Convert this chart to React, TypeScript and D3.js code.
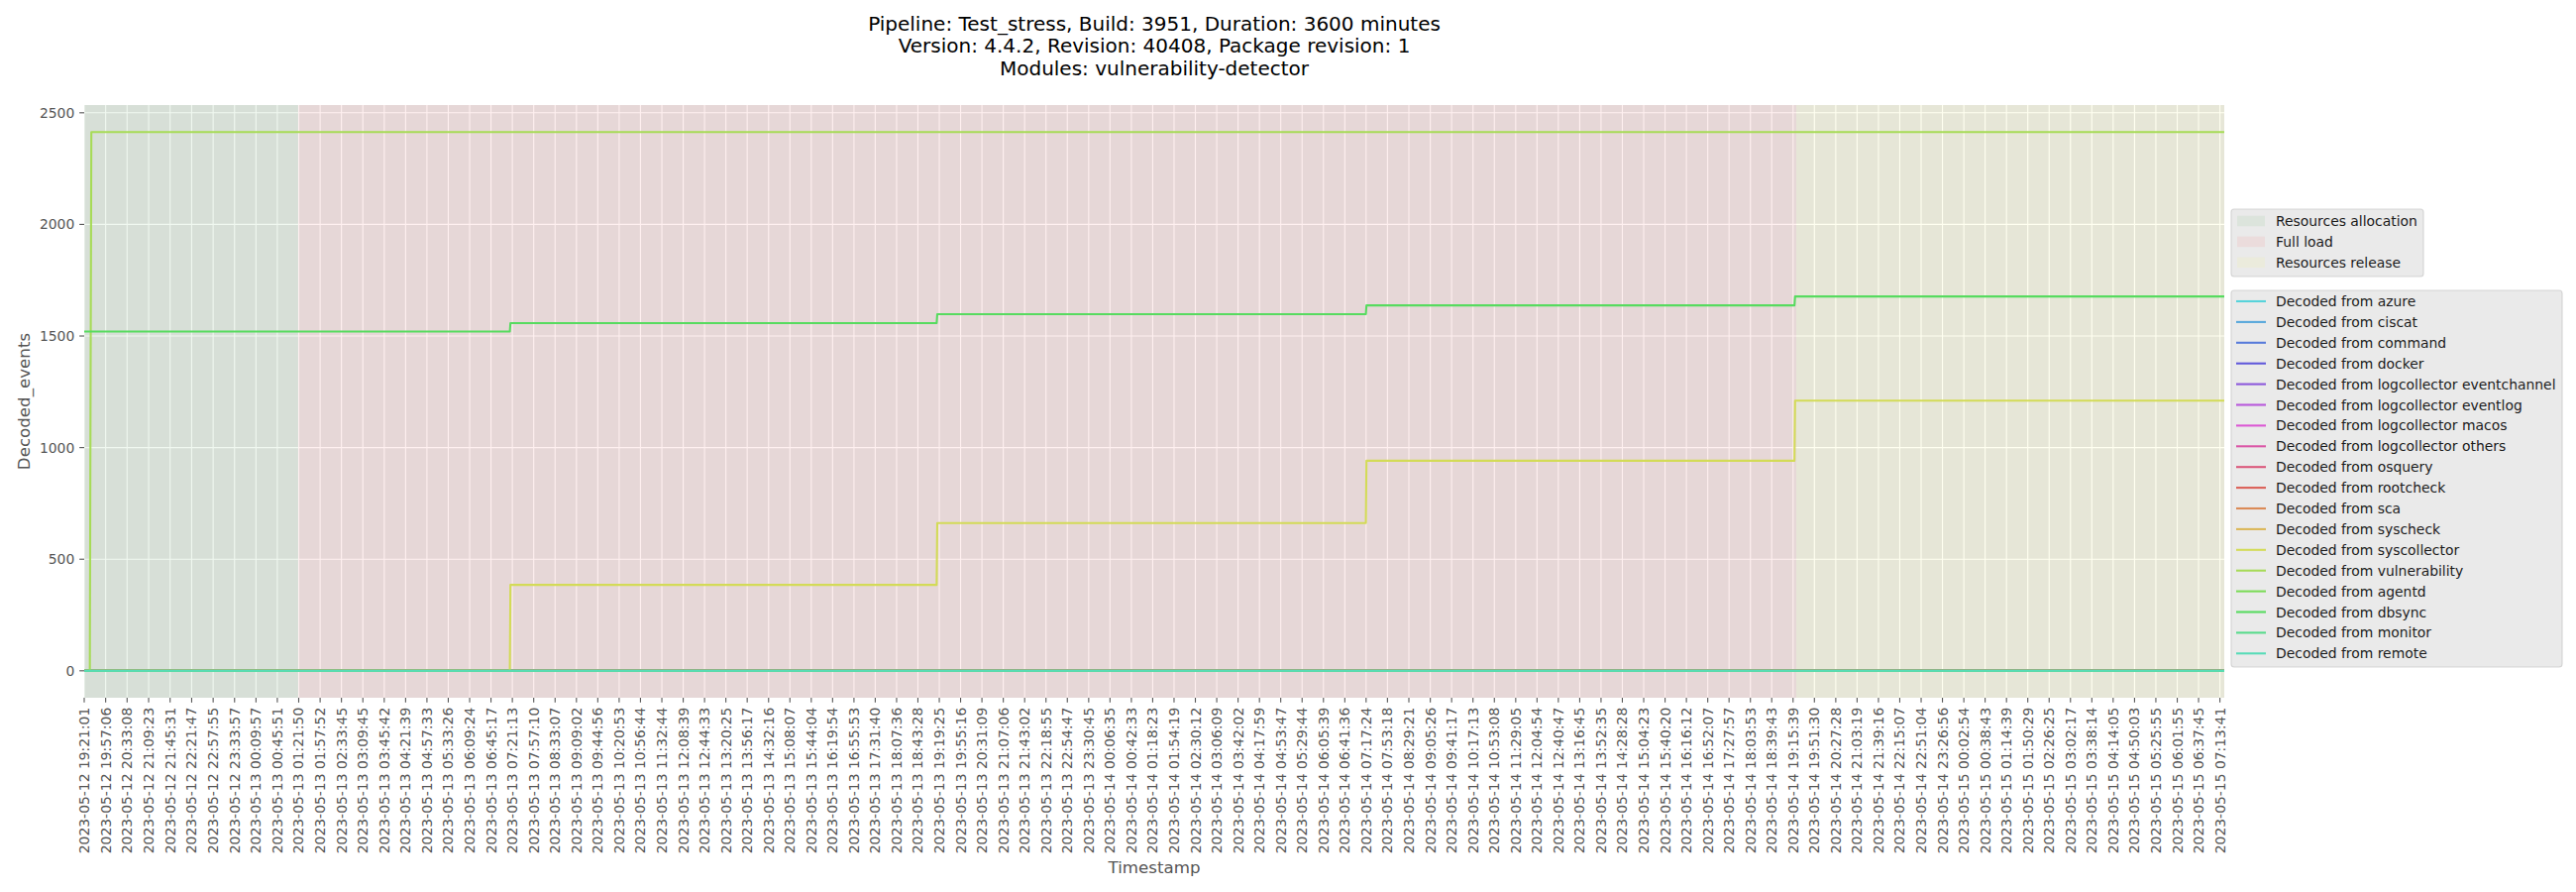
import React from "react";
import * as d3 from "d3";

const titleLines = [
  "Pipeline: Test_stress, Build: 3951, Duration: 3600 minutes",
  "Version: 4.4.2, Revision: 40408, Package revision: 1",
  "Modules: vulnerability-detector",
];

const xLabel = "Timestamp";
const yLabel = "Decoded_events";

const startTime = "2023-05-12 19:21:01";
const endTime = "2023-05-15 07:21:01";

const tickLabels = [
  "2023-05-12 19:21:01", "2023-05-12 19:57:06", "2023-05-12 20:33:08", "2023-05-12 21:09:23",
  "2023-05-12 21:45:31", "2023-05-12 22:21:47", "2023-05-12 22:57:55", "2023-05-12 23:33:57",
  "2023-05-13 00:09:57", "2023-05-13 00:45:51", "2023-05-13 01:21:50", "2023-05-13 01:57:52",
  "2023-05-13 02:33:45", "2023-05-13 03:09:45", "2023-05-13 03:45:42", "2023-05-13 04:21:39",
  "2023-05-13 04:57:33", "2023-05-13 05:33:26", "2023-05-13 06:09:24", "2023-05-13 06:45:17",
  "2023-05-13 07:21:13", "2023-05-13 07:57:10", "2023-05-13 08:33:07", "2023-05-13 09:09:02",
  "2023-05-13 09:44:56", "2023-05-13 10:20:53", "2023-05-13 10:56:44", "2023-05-13 11:32:44",
  "2023-05-13 12:08:39", "2023-05-13 12:44:33", "2023-05-13 13:20:25", "2023-05-13 13:56:17",
  "2023-05-13 14:32:16", "2023-05-13 15:08:07", "2023-05-13 15:44:04", "2023-05-13 16:19:54",
  "2023-05-13 16:55:53", "2023-05-13 17:31:40", "2023-05-13 18:07:36", "2023-05-13 18:43:28",
  "2023-05-13 19:19:25", "2023-05-13 19:55:16", "2023-05-13 20:31:09", "2023-05-13 21:07:06",
  "2023-05-13 21:43:02", "2023-05-13 22:18:55", "2023-05-13 22:54:47", "2023-05-13 23:30:45",
  "2023-05-14 00:06:35", "2023-05-14 00:42:33", "2023-05-14 01:18:23", "2023-05-14 01:54:19",
  "2023-05-14 02:30:12", "2023-05-14 03:06:09", "2023-05-14 03:42:02", "2023-05-14 04:17:59",
  "2023-05-14 04:53:47", "2023-05-14 05:29:44", "2023-05-14 06:05:39", "2023-05-14 06:41:36",
  "2023-05-14 07:17:24", "2023-05-14 07:53:18", "2023-05-14 08:29:21", "2023-05-14 09:05:26",
  "2023-05-14 09:41:17", "2023-05-14 10:17:13", "2023-05-14 10:53:08", "2023-05-14 11:29:05",
  "2023-05-14 12:04:54", "2023-05-14 12:40:47", "2023-05-14 13:16:45", "2023-05-14 13:52:35",
  "2023-05-14 14:28:28", "2023-05-14 15:04:23", "2023-05-14 15:40:20", "2023-05-14 16:16:12",
  "2023-05-14 16:52:07", "2023-05-14 17:27:57", "2023-05-14 18:03:53", "2023-05-14 18:39:43",
  "2023-05-14 19:15:39", "2023-05-14 19:51:30", "2023-05-14 20:27:28", "2023-05-14 21:03:19",
  "2023-05-14 21:39:16", "2023-05-14 22:15:07", "2023-05-14 22:51:04", "2023-05-14 23:26:56",
  "2023-05-15 00:02:54", "2023-05-15 00:38:43", "2023-05-15 01:14:39", "2023-05-15 01:50:29",
  "2023-05-15 02:26:25", "2023-05-15 03:02:17", "2023-05-15 03:38:14", "2023-05-15 04:14:05",
  "2023-05-15 04:50:03", "2023-05-15 05:25:55", "2023-05-15 06:01:55", "2023-05-15 06:37:45",
  "2023-05-15 07:13:41",
];

const phaseNames = ["Resources allocation", "Full load", "Resources release"];
const phaseBounds = ["2023-05-12 19:21:01", "2023-05-13 01:21:01", "2023-05-14 19:21:01", "2023-05-15 07:21:01"];
const phaseColors = ["#008000", "#ff0000", "#ffff00"];

const seriesNames = [
  "Decoded from azure", "Decoded from ciscat", "Decoded from command", "Decoded from docker",
  "Decoded from logcollector eventchannel", "Decoded from logcollector eventlog",
  "Decoded from logcollector macos", "Decoded from logcollector others", "Decoded from osquery",
  "Decoded from rootcheck", "Decoded from sca", "Decoded from syscheck", "Decoded from syscollector",
  "Decoded from vulnerability", "Decoded from agentd", "Decoded from dbsync", "Decoded from monitor",
  "Decoded from remote",
];

const seriesColors = [
  "#57d3db", "#57a7db", "#577bdb", "#5f57db", "#8b57db", "#b757db", "#db57d3", "#db57a7", "#db577b",
  "#db5f57", "#db8b57", "#dbb757", "#d3db57", "#a7db57", "#7bdb57", "#57db5f", "#57db8b", "#57dbb7",
];

type Pt = [string, number];

const zeroPoints: Pt[] = [
  ["2023-05-12 19:21:01", 0],
  ["2023-05-15 07:21:01", 0],
];

const syscollectorPoints: Pt[] = [
  ["2023-05-12 19:21:01", 0],
  ["2023-05-13 07:17:00", 0],
  ["2023-05-13 07:18:00", 385],
  ["2023-05-13 19:15:00", 385],
  ["2023-05-13 19:16:00", 662],
  ["2023-05-14 07:17:00", 662],
  ["2023-05-14 07:18:00", 941],
  ["2023-05-14 19:18:00", 941],
  ["2023-05-14 19:19:00", 1210],
  ["2023-05-15 07:21:01", 1210],
];

const vulnerabilityPoints: Pt[] = [
  ["2023-05-12 19:21:01", 0],
  ["2023-05-12 19:30:30", 0],
  ["2023-05-12 19:31:30", 1060],
  ["2023-05-12 19:33:00", 2414],
  ["2023-05-15 07:21:01", 2414],
];

const dbsyncPoints: Pt[] = [
  ["2023-05-12 19:21:01", 1520],
  ["2023-05-13 07:17:00", 1520],
  ["2023-05-13 07:18:00", 1558],
  ["2023-05-13 19:15:00", 1558],
  ["2023-05-13 19:16:00", 1598],
  ["2023-05-14 07:17:00", 1598],
  ["2023-05-14 07:18:00", 1637],
  ["2023-05-14 19:18:00", 1637],
  ["2023-05-14 19:19:00", 1677],
  ["2023-05-15 07:21:01", 1677],
];

const seriesData: Record<string, Pt[]> = {
  "Decoded from syscollector": syscollectorPoints,
  "Decoded from vulnerability": vulnerabilityPoints,
  "Decoded from dbsync": dbsyncPoints,
};

const parse = d3.utcParse("%Y-%m-%d %H:%M:%S");
const fmt = d3.utcFormat("%Y-%m-%d %H:%M:%S");

export default function App() {
  const W = 2600;
  const H = 900;
  const left = 85;
  const right = 2245;
  const top = 106;
  const bottom = 704;
  const font = "DejaVu Sans";

  const x = d3.scaleTime().domain([parse(startTime)!, parse(endTime)!]).range([left, right]);

  const allVals = seriesNames.flatMap((n) => (seriesData[n] || zeroPoints).map((p) => p[1]));
  const vmin = d3.min(allVals)!;
  const vmax = d3.max(allVals)!;
  const pad = (vmax - vmin) * 0.05;
  const y = d3.scaleLinear().domain([vmin - pad, vmax + pad]).range([bottom, top]);
  const yTicks = y.ticks(5);

  const line = d3
    .line<Pt>()
    .x((d) => x(parse(d[0])!))
    .y((d) => y(d[1]));

  const tickDates = tickLabels.map((t) => parse(t)!);

  const legend1 = { x: 2252, y: 211, w: 194, h: 68 };
  const legend2 = { x: 2252, y: 293, w: 334, h: 380 };
  const rowH = 20.9;

  return (
    <svg
      width={W}
      height={H}
      style={{ position: "absolute", left: 0, top: 0, background: "#ffffff" }}
      fontFamily={font}
    >
      <rect x={0} y={0} width={W} height={H} fill="#ffffff" />
      {titleLines.map((t, i) => (
        <text key={i} x={(left + right) / 2} y={30.5 + i * 22.5} textAnchor="middle" fontSize={20} fill="#000">
          {t}
        </text>
      ))}
      <rect x={left} y={top} width={right - left} height={bottom - top} fill="#e5e5e5" />
      {/* grid */}
      {tickDates.map((d, i) => (
        <line key={"gx" + i} x1={x(d)} x2={x(d)} y1={top} y2={bottom} stroke="#ffffff" strokeWidth={1.1} />
      ))}
      {yTicks.map((v, i) => (
        <line key={"gy" + i} x1={left} x2={right} y1={y(v)} y2={y(v)} stroke="#ffffff" strokeWidth={1.1} />
      ))}
      {/* phases */}
      {phaseNames.map((p, i) => (
        <rect
          key={"ph" + i}
          x={x(parse(phaseBounds[i])!)}
          y={top}
          width={x(parse(phaseBounds[i + 1])!) - x(parse(phaseBounds[i])!)}
          height={bottom - top}
          fill={phaseColors[i]}
          fillOpacity={0.06}
        />
      ))}
      {/* lines */}
      <g clipPath="url(#clip)">
        {seriesNames.map((n, i) => (
          <path
            key={"s" + i}
            d={line(seriesData[n] || zeroPoints)!}
            fill="none"
            stroke={seriesColors[i]}
            strokeWidth={2.08}
            strokeLinejoin="round"
          />
        ))}
      </g>
      <defs>
        <clipPath id="clip">
          <rect x={left} y={top} width={right - left} height={bottom - top} />
        </clipPath>
      </defs>
      {/* y axis */}
      {yTicks.map((v, i) => (
        <g key={"yt" + i}>
          <line x1={left - 4.86} x2={left} y1={y(v)} y2={y(v)} stroke="#555555" strokeWidth={1.1} />
          <text x={left - 9.7} y={y(v)} textAnchor="end" dominantBaseline="central" fontSize={13.9} fill="#555555">
            {v}
          </text>
        </g>
      ))}
      {/* x axis */}
      {tickDates.map((d, i) => (
        <g key={"xt" + i}>
          <line x1={x(d)} x2={x(d)} y1={bottom} y2={bottom + 4.86} stroke="#555555" strokeWidth={1.1} />
          <text
            transform={`translate(${x(d)},${bottom + 9.7}) rotate(-90)`}
            textAnchor="end"
            dominantBaseline="central"
            fontSize={13.9}
            fill="#555555"
          >
            {fmt(d)}
          </text>
        </g>
      ))}
      <text x={(left + right) / 2} y={881} textAnchor="middle" fontSize={16.67} fill="#555555">
        {xLabel}
      </text>
      <text
        transform={`translate(24,${(top + bottom) / 2}) rotate(-90)`}
        textAnchor="middle"
        dominantBaseline="central"
        fontSize={16.67}
        fill="#555555"
      >
        {yLabel}
      </text>
      {/* legend 1 */}
      <rect
        x={legend1.x}
        y={legend1.y}
        width={legend1.w}
        height={legend1.h}
        rx={3}
        fill="#e5e5e5"
        fillOpacity={0.8}
        stroke="#cccccc"
        strokeOpacity={0.8}
        strokeWidth={1.1}
      />
      {phaseNames.map((p, i) => {
        const cy = legend1.y + 12 + i * rowH;
        return (
          <g key={"l1" + i}>
            <rect x={2258} y={cy - 5.3} width={28} height={10.6} fill={phaseColors[i]} fillOpacity={0.06} />
            <text x={2297} y={cy} dominantBaseline="central" fontSize={13.9} fill="#1a1a1a">
              {p}
            </text>
          </g>
        );
      })}
      {/* legend 2 */}
      <rect
        x={legend2.x}
        y={legend2.y}
        width={legend2.w}
        height={legend2.h}
        rx={3}
        fill="#e5e5e5"
        fillOpacity={0.8}
        stroke="#cccccc"
        strokeOpacity={0.8}
        strokeWidth={1.1}
      />
      {seriesNames.map((n, i) => {
        const cy = legend2.y + 11 + i * rowH;
        return (
          <g key={"l2" + i}>
            <line x1={2257} x2={2287} y1={cy} y2={cy} stroke={seriesColors[i]} strokeWidth={2.08} />
            <text x={2297} y={cy} dominantBaseline="central" fontSize={13.9} fill="#1a1a1a">
              {n}
            </text>
          </g>
        );
      })}
    </svg>
  );
}
